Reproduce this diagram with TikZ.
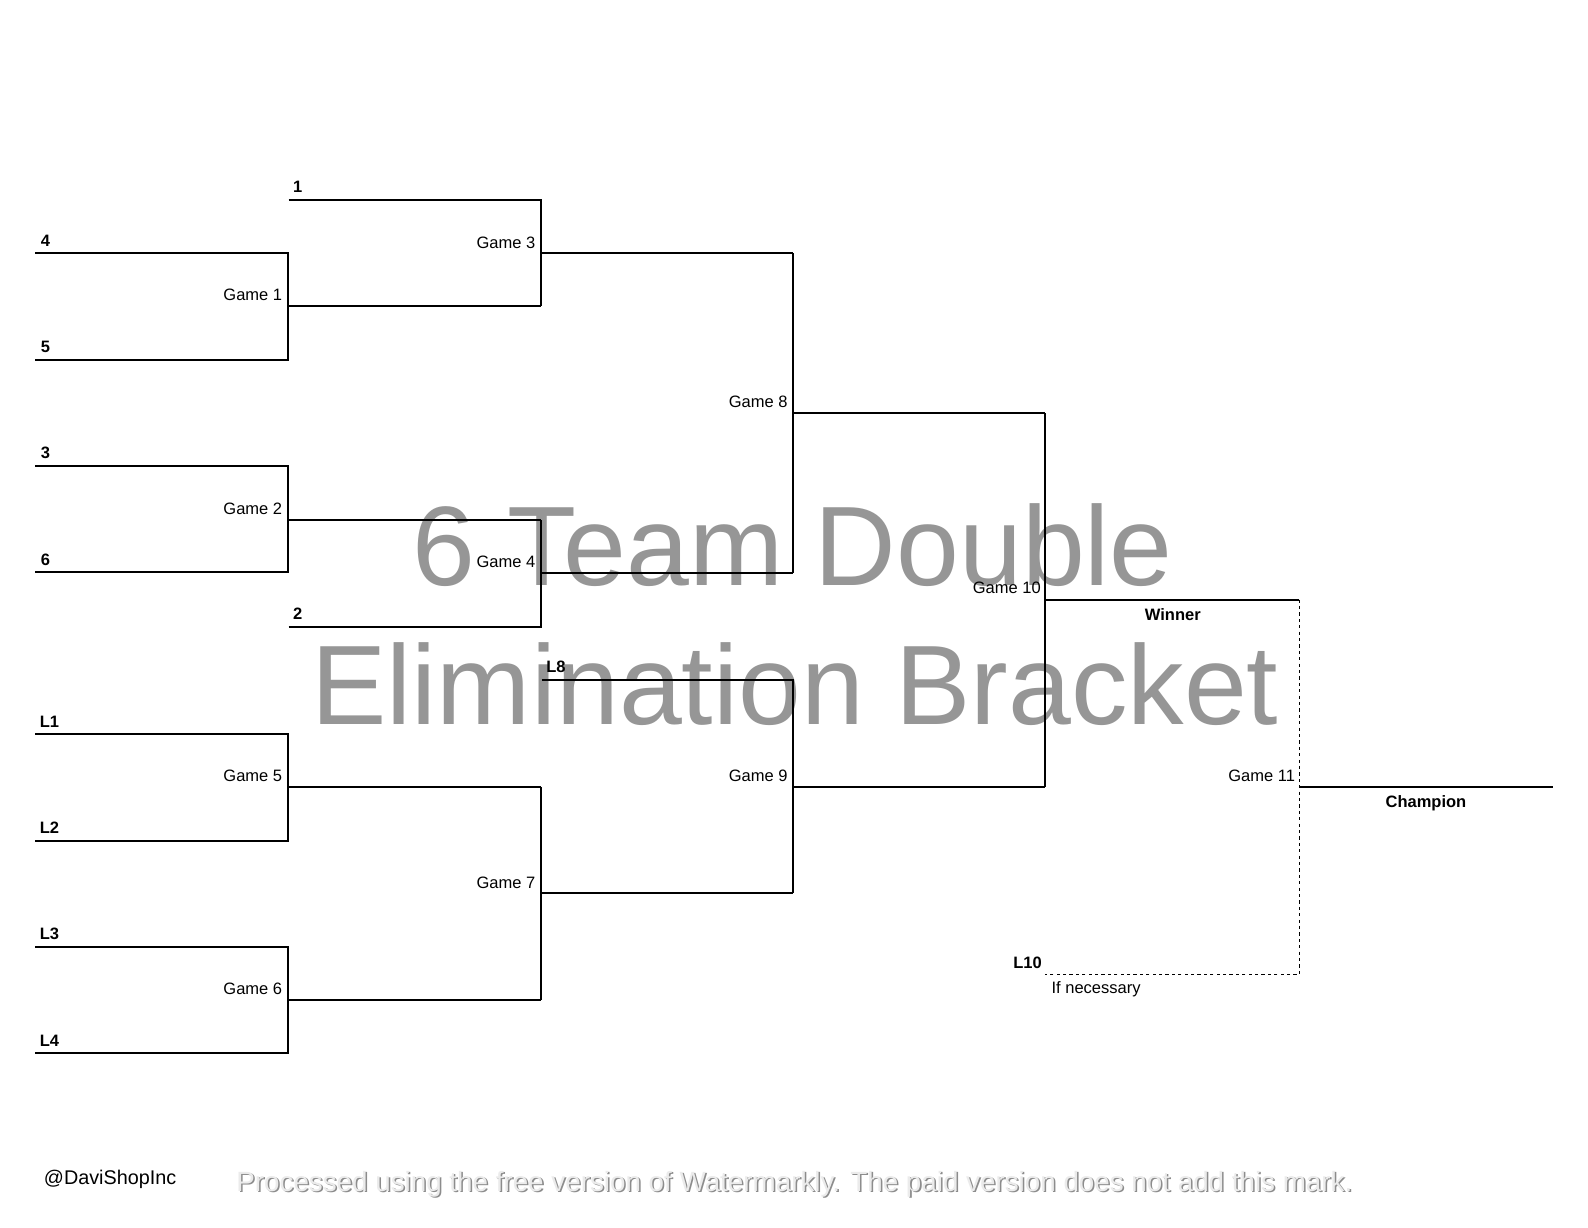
\documentclass[tikz,border=0pt]{standalone}
\usepackage{fontspec}
\setmainfont{Liberation Sans}
\usepackage{graphicx}
\begin{document}
\begin{tikzpicture}[x=0.5064pt,y=-0.5064pt,
  br/.style={line width=1pt, line join=miter},
  dotline/.style={line width=0.6pt, dash pattern=on 1.6pt off 1.6pt},
  glabel/.style={anchor=base east, inner sep=0pt, font=\fontsize{8.25}{10}\selectfont},
  seed/.style={anchor=base west, inner sep=0pt, font=\fontsize{8.25}{10}\selectfont\bfseries},
  title/.style={anchor=base, inner sep=0pt, text=black!41, font=\fontsize{56.5}{60}\selectfont}]
\useasboundingbox (0,0) rectangle (1568,1212);
\fill[white] (0,0) rectangle (1568,1212);

% watermark title
\node[title] (t1) at (783,578) {6 Team Double};
\node[title] (t2) at (785,715) {Elimination Bracket};

% coordinates
\coordinate (a4) at (35,250);  \coordinate (a5) at (35,355);
\coordinate (a3) at (35,460);  \coordinate (a6) at (35,565);
\coordinate (aL1) at (35,725); \coordinate (aL2) at (35,830);
\coordinate (aL3) at (35,935); \coordinate (aL4) at (35,1040);
\coordinate (a1) at (285,197); \coordinate (a2) at (285,619);
\coordinate (aL8) at (535,671); \coordinate (aL10) at (1032,962);

% winners bracket
\draw[br] (a4) -- (284,250) -- (284,355) -- (a5);
\draw[br] (284,302) -- (534,302);
\draw[br] (a1) -- (534,197) -- (534,302);
\draw[br] (534,250) -- (783,250);
\draw[br] (a3) -- (284,460) -- (284,565) -- (a6);
\draw[br] (284,513) -- (534,513);
\draw[br] (a2) -- (534,619) -- (534,513);
\draw[br] (534,566) -- (783,566);
\draw[br] (783,250) -- (783,566);
\draw[br] (783,408) -- (1032,408);

% losers bracket
\draw[br] (aL1) -- (284,725) -- (284,830) -- (aL2);
\draw[br] (284,777) -- (534,777);
\draw[br] (aL3) -- (284,935) -- (284,1040) -- (aL4);
\draw[br] (284,987) -- (534,987);
\draw[br] (534,777) -- (534,987);
\draw[br] (534,882) -- (783,882);
\draw[br] (aL8) -- (783,671) -- (783,882);
\draw[br] (783,777) -- (1032,777);

% final
\draw[br] (1032,408) -- (1032,777);
\draw[br] (1032,592) -- (1283,592);
\draw[dotline] (1283,592) -- (1283,962) -- (aL10);
\draw[br] (1283,777) -- (1533,777);

% seeds
\node[seed] (s4) at (40,243) {4};
\node[seed] (s5) at (40,348) {5};
\node[seed] (s3) at (40,453) {3};
\node[seed] (s6) at (40,558) {6};
\node[seed] (s1) at (289,190) {1};
\node[seed] (s2) at (289,612) {2};
\node[seed] (sL1) at (39,718) {L1};
\node[seed] (sL2) at (39,823) {L2};
\node[seed] (sL3) at (39,928) {L3};
\node[seed] (sL4) at (39,1033) {L4};
\node[seed] (sL8) at (539,664) {L8};
\node[seed, anchor=base east] (sL10) at (1029,956) {L10};
\node[seed, anchor=base] (win) at (1158,613) {Winner};
\node[seed, anchor=base] (champ) at (1408,797) {Champion};
\node[glabel, anchor=base west] (ifn) at (1038,981) {If necessary};

% game labels
\node[glabel] (g1) at (279,297) {Game 1};
\node[glabel] (g2) at (279,508) {Game 2};
\node[glabel] (g3) at (529,245) {Game 3};
\node[glabel] (g4) at (529,560) {Game 4};
\node[glabel] (g5) at (279,772) {Game 5};
\node[glabel] (g6) at (279,982) {Game 6};
\node[glabel] (g7) at (529,877) {Game 7};
\node[glabel] (g8) at (778,402) {Game 8};
\node[glabel] (g9) at (778,772) {Game 9};
\node[glabel] (g10) at (1028,586) {Game 10};
\node[glabel] (g11) at (1279,772) {Game 11};

% footer
\node[anchor=base west, inner sep=0pt, font=\fontsize{9.9}{12}\selectfont] (shop) at (43,1170) {@DaviShopInc};
\node[anchor=base west, inner sep=0pt, text=black!45] (wm0) at (234.5,1177.5) {\resizebox{558pt}{!}{Processed using the free version of Watermarkly. The paid version does not add this mark.}};
\node[anchor=base west, inner sep=0pt, text=black!8] (wm) at (233,1176) {\resizebox{558pt}{!}{Processed using the free version of Watermarkly. The paid version does not add this mark.}};
\end{tikzpicture}
\end{document}
